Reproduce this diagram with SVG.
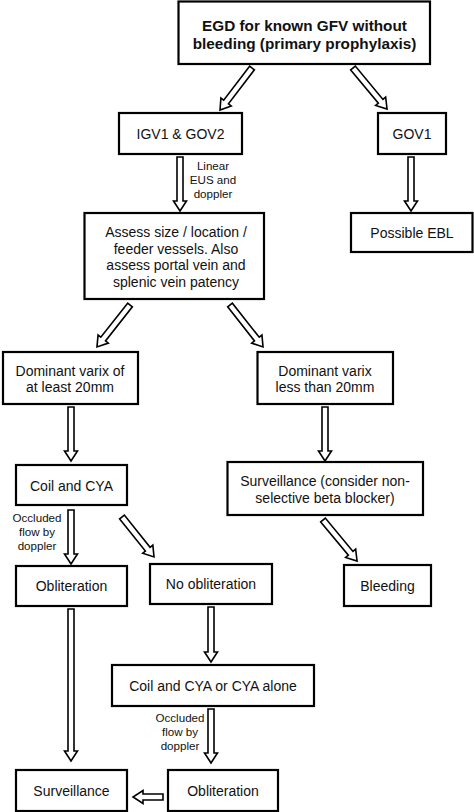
<svg xmlns="http://www.w3.org/2000/svg" width="474" height="812" viewBox="0 0 474 812">
<style>
.box{fill:#fff;stroke:#000;stroke-width:2.2}
.t{font-family:"Liberation Sans",Arial,sans-serif;font-size:14px;fill:#111;text-anchor:middle}
.b{font-weight:bold;font-size:15.3px}
.s{font-family:"Liberation Sans",Arial,sans-serif;font-size:11.6px;fill:#111;text-anchor:middle}
.ar{fill:#fff;stroke:#000;stroke-width:1.6;stroke-linejoin:miter}
</style>
<rect width="474" height="812" fill="#fff"/>
<g id="connectors">
<path class="ar" transform="translate(252,68) rotate(37.3)" d="M-3,0 L-3,42.8 L-6.5,42.8 L0,52.8 L6.5,42.8 L3,42.8 L3,0 Z"/>
<path class="ar" transform="translate(353,68) rotate(-39.7)" d="M-3,0 L-3,43.3 L-6.5,43.3 L0,53.3 L6.5,43.3 L3,43.3 L3,0 Z"/>
<path class="ar" transform="translate(180,157)" d="M-3,0 L-3,44 L-6.5,44 L0,54 L6.5,44 L3,44 L3,0 Z"/>
<path class="ar" transform="translate(411,157)" d="M-3,0 L-3,44 L-6.5,44 L0,54 L6.5,44 L3,44 L3,0 Z"/>
<path class="ar" transform="translate(130,305) rotate(38.2)" d="M-3,0 L-3,43.4 L-6.5,43.4 L0,53.4 L6.5,43.4 L3,43.4 L3,0 Z"/>
<path class="ar" transform="translate(230,305) rotate(-38.2)" d="M-3,0 L-3,43.4 L-6.5,43.4 L0,53.4 L6.5,43.4 L3,43.4 L3,0 Z"/>
<path class="ar" transform="translate(71,407)" d="M-3,0 L-3,44 L-6.5,44 L0,54 L6.5,44 L3,44 L3,0 Z"/>
<path class="ar" transform="translate(325,407)" d="M-3,0 L-3,44 L-6.5,44 L0,54 L6.5,44 L3,44 L3,0 Z"/>
<path class="ar" transform="translate(71,510)" d="M-3,0 L-3,44 L-6.5,44 L0,54 L6.5,44 L3,44 L3,0 Z"/>
<path class="ar" transform="translate(122,517) rotate(-38.7)" d="M-3,0 L-3,41.2 L-6.5,41.2 L0,51.2 L6.5,41.2 L3,41.2 L3,0 Z"/>
<path class="ar" transform="translate(323,520) rotate(-39.7)" d="M-3,0 L-3,43.3 L-6.5,43.3 L0,53.3 L6.5,43.3 L3,43.3 L3,0 Z"/>
<path class="ar" transform="translate(71,609)" d="M-3,0 L-3,142 L-6.5,142 L0,152 L6.5,142 L3,142 L3,0 Z"/>
<path class="ar" transform="translate(211,607)" d="M-3,0 L-3,45 L-6.5,45 L0,55 L6.5,45 L3,45 L3,0 Z"/>
<path class="ar" transform="translate(211,709)" d="M-3,0 L-3,44 L-6.5,44 L0,54 L6.5,44 L3,44 L3,0 Z"/>
<path class="ar" transform="translate(163,797) rotate(90)" d="M-3,0 L-3,20 L-6.5,20 L0,30 L6.5,20 L3,20 L3,0 Z"/>
<text class="s" x="213" y="170">Linear</text>
<text class="s" x="213" y="184">EUS and</text>
<text class="s" x="213" y="198">doppler</text>
<text class="s" x="37" y="522">Occluded</text>
<text class="s" x="37" y="536">flow by</text>
<text class="s" x="37" y="550">doppler</text>
<text class="s" x="180" y="722">Occluded</text>
<text class="s" x="180" y="736">flow by</text>
<text class="s" x="180" y="750">doppler</text>
</g>
<g id="n-start">
<rect class="box" x="178.5" y="1.5" width="251.5" height="62.5"/>
<text class="t b" x="304.5" y="30.5">EGD for known GFV without</text>
<text class="t b" x="304.5" y="48.5">bleeding (primary prophylaxis)</text>
</g>
<g id="n-igv1">
<rect class="box" x="119" y="113" width="123" height="41"/>
<text class="t" x="180.5" y="139">IGV1 &amp; GOV2</text>
</g>
<g id="n-gov1">
<rect class="box" x="378" y="113" width="68" height="41"/>
<text class="t" x="412" y="139">GOV1</text>
</g>
<g id="n-assess">
<rect class="box" x="84.5" y="213" width="179.5" height="86"/>
<text class="t" x="176" y="237">Assess size / location /</text>
<text class="t" x="176" y="253.7">feeder vessels. Also</text>
<text class="t" x="176" y="270.4">assess portal vein and</text>
<text class="t" x="176" y="287">splenic vein patency</text>
</g>
<g id="n-ebl">
<rect class="box" x="351" y="213" width="121.5" height="39"/>
<text class="t" x="412" y="238">Possible EBL</text>
</g>
<g id="n-dom-big">
<rect class="box" x="3" y="352" width="135" height="52"/>
<text class="t" x="70" y="376">Dominant varix of</text>
<text class="t" x="70" y="392">at least 20mm</text>
</g>
<g id="n-dom-small">
<rect class="box" x="257.5" y="352" width="135.5" height="52"/>
<text class="t" x="325" y="376">Dominant varix</text>
<text class="t" x="325" y="392">less than 20mm</text>
</g>
<g id="n-coil">
<rect class="box" x="16" y="465" width="111" height="40"/>
<text class="t" x="71.5" y="491">Coil and CYA</text>
</g>
<g id="n-surv1">
<rect class="box" x="227.5" y="462" width="195.5" height="53"/>
<text class="t" x="325" y="486">Surveillance (consider non-</text>
<text class="t" x="325" y="503">selective beta blocker)</text>
</g>
<g id="n-oblit1">
<rect class="box" x="16" y="566" width="111" height="40"/>
<text class="t" x="71.5" y="591">Obliteration</text>
</g>
<g id="n-noob">
<rect class="box" x="150" y="564" width="122" height="40"/>
<text class="t" x="211" y="589">No obliteration</text>
</g>
<g id="n-bleed">
<rect class="box" x="344" y="565" width="87" height="41"/>
<text class="t" x="387.5" y="591">Bleeding</text>
</g>
<g id="n-coil2">
<rect class="box" x="112" y="665" width="202" height="41"/>
<text class="t" x="213" y="691">Coil and CYA or CYA alone</text>
</g>
<g id="n-surv2">
<rect class="box" x="16" y="770" width="111" height="41"/>
<text class="t" x="71.5" y="796">Surveillance</text>
</g>
<g id="n-oblit2">
<rect class="box" x="168" y="770" width="110" height="41"/>
<text class="t" x="223" y="796">Obliteration</text>
</g>
</svg>
